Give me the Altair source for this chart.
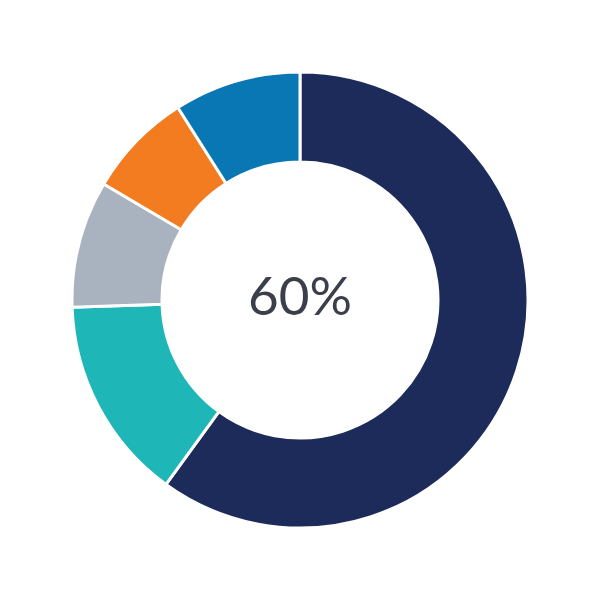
import altair as alt
import pandas as pd

categories = ["A", "B", "C", "D", "E"]
values = [60, 14.5, 9, 7.5, 9]
order = [1, 2, 3, 4, 5]
colors = ["#1c2b5a", "#1eb6b7", "#a9b2bf", "#f37b20", "#0a77b5"]
center_label = ["60%"]

df = pd.DataFrame({"cat": categories, "value": values, "ord": order})

arc = alt.Chart(df).mark_arc(
    outerRadius=228, innerRadius=138, stroke="white", strokeWidth=3
).encode(
    theta=alt.Theta("value:Q", stack=True),
    color=alt.Color("cat:N", scale=alt.Scale(domain=categories, range=colors), legend=None),
    order=alt.Order("ord:Q"),
)

text = alt.Chart(pd.DataFrame({"t": center_label})).mark_text(
    font="Lato", fontSize=53, fontWeight="normal", color="#3a3f4a", baseline="middle", align="center"
).encode(
    text="t:N",
    x=alt.value(292),
    y=alt.value(291),
)

chart = alt.layer(arc, text).properties(
    width=584, height=584, padding=0, autosize=alt.AutoSizeParams(type="none")
).configure_view(stroke=None)

chart.save("out.html", embed_options={"renderer": "svg", "actions": False})
